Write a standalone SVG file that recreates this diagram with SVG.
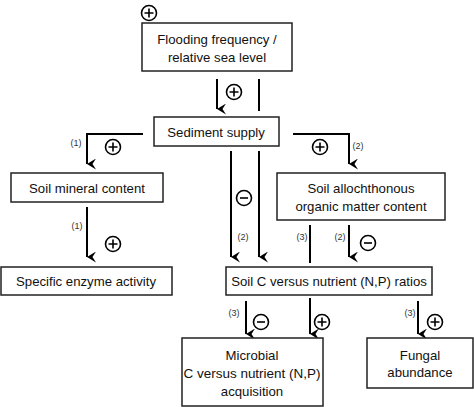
<svg xmlns="http://www.w3.org/2000/svg" width="474" height="407" viewBox="0 0 474 407">
<defs>
<marker id="ah" markerWidth="11" markerHeight="12" refX="5.5" refY="11" orient="auto" markerUnits="userSpaceOnUse" viewBox="0 0 11 12">
<path d="M0,2 L5.5,11 L11,2 L5.5,5.5 Z" fill="#000"/>
</marker>
<g id="plus"><circle r="7.5" fill="#fff" stroke="#000" stroke-width="1.6"/><path d="M-4.5,0 H4.5 M0,-4.5 V4.5" stroke="#000" stroke-width="1.6"/></g>
<g id="minus"><circle r="7.5" fill="#fff" stroke="#000" stroke-width="1.6"/><path d="M-4,0 H4" stroke="#000" stroke-width="1.6"/></g>
</defs>
<style>
.box{fill:#fff;stroke:#222;stroke-width:1.5}
.t{font-family:"Liberation Sans",Arial,sans-serif;font-size:13.2px;fill:#111;text-anchor:middle}
.s{font-family:"Liberation Sans",Arial,sans-serif;font-size:9px;fill:#333;text-anchor:middle}
.c{fill:none;stroke:#000;stroke-width:2}
.a{fill:none;stroke:#000;stroke-width:2;marker-end:url(#ah)}
</style>
<rect width="474" height="407" fill="#fff"/>
<g id="connectors">
<path class="a" d="M217,79 V109"/>
<path class="c" d="M259,79 V111"/>
<path class="a" d="M143,134 H87 V164"/>
<path class="a" d="M87,207 V257"/>
<path class="a" d="M231,151 V257"/>
<path class="a" d="M259,151 V257"/>
<path class="a" d="M293,134 H349 V164"/>
<path class="c" d="M310,225 V263"/>
<path class="a" d="M349,225 V257"/>
<path class="a" d="M246,301 V334"/>
<path class="a" d="M310,298 V334"/>
<path class="a" d="M418,301 V334"/>
</g>
<g id="signs">
<use href="#plus" x="149" y="13"/>
<use href="#plus" x="234" y="92"/>
<use href="#plus" x="113" y="147"/>
<use href="#plus" x="113" y="244"/>
<use href="#minus" x="244" y="198"/>
<use href="#plus" x="320" y="147"/>
<use href="#minus" x="368" y="243"/>
<use href="#minus" x="261" y="322"/>
<use href="#plus" x="322" y="322"/>
<use href="#plus" x="435" y="322"/>
</g>
<g id="labels">
<text class="s" x="76" y="146">(1)</text>
<text class="s" x="77" y="229">(1)</text>
<text class="s" x="243" y="240">(2)</text>
<text class="s" x="358" y="149">(2)</text>
<text class="s" x="302" y="240">(3)</text>
<text class="s" x="340" y="240">(2)</text>
<text class="s" x="234" y="316">(3)</text>
<text class="s" x="410" y="316">(3)</text>
</g>
<g id="flooding">
<rect class="box" x="142" y="23" width="150" height="48"/>
<text class="t" x="217" y="44">Flooding frequency /</text>
<text class="t" x="217" y="62">relative sea level</text>
</g>
<g id="sediment">
<rect class="box" x="154" y="117" width="125" height="29"/>
<text class="t" x="216" y="137">Sediment supply</text>
</g>
<g id="mineral">
<rect class="box" x="11" y="173" width="152" height="29"/>
<text class="t" x="87" y="193">Soil mineral content</text>
</g>
<g id="enzyme">
<rect class="box" x="1" y="267" width="171" height="28"/>
<text class="t" x="86" y="286">Specific enzyme activity</text>
</g>
<g id="allochthonous">
<rect class="box" x="277" y="173" width="168" height="47"/>
<text class="t" x="361" y="193">Soil allochthonous</text>
<text class="t" x="361" y="211">organic matter content</text>
</g>
<g id="soilc">
<rect class="box" x="226" y="267" width="206" height="28"/>
<text class="t" x="329" y="286">Soil C versus nutrient (N,P) ratios</text>
</g>
<g id="microbial">
<rect class="box" x="182" y="338" width="141" height="68"/>
<text class="t" x="252" y="360">Microbial</text>
<text class="t" x="252" y="378" textLength="137" lengthAdjust="spacingAndGlyphs">C versus nutrient (N,P)</text>
<text class="t" x="252" y="396">acquisition</text>
</g>
<g id="fungal">
<rect class="box" x="367" y="338" width="106" height="50"/>
<text class="t" x="420" y="360">Fungal</text>
<text class="t" x="420" y="377">abundance</text>
</g>
</svg>
